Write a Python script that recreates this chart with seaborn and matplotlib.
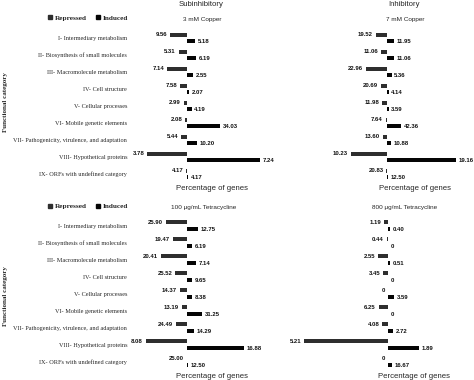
import numpy as np
import pandas as pd
import matplotlib
matplotlib.use('Agg')
from matplotlib import pyplot as plt
from matplotlib.lines import Line2D
import seaborn as sns

sns.set_style('white')
plt.rcParams['font.family'] = ['Liberation Sans', 'DejaVu Sans']

categories = ['I- Intermediary metabolism',
              'II- Biosynthesis of small molecules',
              'III- Macromolecule metabolism',
              'IV- Cell structure',
              'V- Cellular processes',
              'VI- Mobile genetic elements',
              'VII- Pathogenicity, virulence, and adaptation',
              'VIII- Hypothetical proteins',
              'IX- ORFs with undefined category']

# bar lengths and the printed percentages
cu3_rep = [17, 8.5, 20, 7, 3.5, 2, 6, 40, 0.7]
cu3_ind = [8, 9, 6, 2, 4.5, 33, 10, 73, 0.7]
cu3_rep_lbl = ['9.56', '5.31', '7.14', '7.58', '2.99', '2.08', '5.44', '3.78', '4.17']
cu3_ind_lbl = ['5.18', '6.19', '2.55', '2.07', '4.19', '34.03', '10.20', '7.24', '4.17']

cu7_rep = [11.5, 6, 21.5, 6.5, 5, 1.5, 4, 36, 0.7]
cu7_ind = [7, 7, 4.5, 1.5, 1.5, 14, 4, 69, 0.7]
cu7_rep_lbl = ['19.52', '11.06', '22.96', '20.69', '11.98', '7.64', '13.60', '10.23', '20.83']
cu7_ind_lbl = ['11.95', '11.06', '5.36', '4.14', '3.59', '42.36', '10.88', '19.16', '12.50']

tc100_rep = [21.5, 14.5, 26.5, 12, 7, 5.5, 11.5, 41.5, 0.5]
tc100_ind = [11, 5, 8.7, 5, 4.5, 15, 7, 57, 1]
tc100_rep_lbl = ['25.90', '19.47', '20.41', '25.52', '14.37', '13.19', '24.49', '8.08', '25.00']
tc100_ind_lbl = ['12.75', '6.19', '7.14', '9.65', '8.38', '31.25', '14.29', '16.88', '12.50']

tc800_rep = [4, 1.5, 10, 5, 0, 9.5, 6, 84, 0]
tc800_ind = [1.5, 0, 2, 0, 6, 0, 5, 31, 4]
tc800_rep_lbl = ['1.19', '0.44', '2.55', '3.45', '0', '6.25', '4.08', '5.21', '0']
tc800_ind_lbl = ['0.40', '0', '0.51', '0', '3.59', '0', '2.72', '1.89', '16.67']

directions = ['Repressed', 'Induced']
colors = ['#2e2e2e', '#050505']

W, H = 474, 380
fig = plt.figure(figsize=(W / 100, H / 100), dpi=100)


def px_rect(left, top, width, height):
    return [left / W, 1 - (top + height) / H, width / W, height / H]


def draw_panel(rect, center, rep, ind, rep_lbl, ind_lbl, show_cats):
    left, top, width, height = rect
    ax = fig.add_axes(px_rect(left, top, width, height))
    df = pd.DataFrame({
        'category': categories * 2,
        'direction': ['Repressed'] * 9 + ['Induced'] * 9,
        'value': [-v for v in rep] + list(ind),
    })
    sns.barplot(data=df, x='value', y='category', hue='direction',
                hue_order=directions, palette=colors, orient='h',
                dodge=True, width=0.78, gap=0.4, legend=False, ax=ax,
                saturation=1, linewidth=0)
    ax.set_xlim(left - center, left + width - center)
    ax.set_ylim(8.5, -0.5)
    for container, labels, off, ha in zip(ax.containers, [rep_lbl, ind_lbl],
                                          [-2, 2], ['right', 'left']):
        for bar, lbl in zip(container.patches, labels):
            x0, x1 = sorted([bar.get_x(), bar.get_x() + bar.get_width()])
            x = x0 if off < 0 else x1
            y = bar.get_y() + bar.get_height() / 2
            ax.annotate(lbl, (x, y), xytext=(off, 0), textcoords='offset points',
                        ha=ha, va='center', fontsize=4.3, fontweight='bold',
                        color='#111111')
    ax.set_xlabel('')
    ax.set_ylabel('')
    ax.set_xticks([])
    if show_cats:
        ax.set_yticks(range(len(categories)))
        ax.set_yticklabels(categories, fontfamily='Liberation Serif', fontsize=4.5)
        ax.tick_params(axis='y', length=0, pad=2)
    else:
        ax.set_yticks([])
    sns.despine(ax=ax, left=True, bottom=True)
    ax.patch.set_alpha(0)
    return ax


draw_panel((130, 29.5, 150, 153), 187, cu3_rep, cu3_ind, cu3_rep_lbl, cu3_ind_lbl, True)
draw_panel((293, 29.5, 181, 153), 387, cu7_rep, cu7_ind, cu7_rep_lbl, cu7_ind_lbl, False)
draw_panel((130, 217.3, 150, 153), 187, tc100_rep, tc100_ind, tc100_rep_lbl, tc100_ind_lbl, True)
draw_panel((293, 217.3, 181, 153), 388, tc800_rep, tc800_ind, tc800_rep_lbl, tc800_ind_lbl, False)


def ftext(x, y, s, **kw):
    fig.text(x / W, 1 - y / H, s, ha='center', va='center', **kw)


ftext(201, 5, 'Subinhibitory', fontsize=5.6)
ftext(404, 5, 'Inhibitory', fontsize=5.6)
ftext(202, 19, '3 mM Copper', fontsize=4.6)
ftext(405, 19, '7 mM Copper', fontsize=4.6)
ftext(204, 208, '100 \u03bcg/mL Tetracycline', fontsize=4.6)
ftext(405, 208, '800 \u03bcg/mL Tetracycline', fontsize=4.6)
for x, y in [(212, 189), (415, 189), (212, 377), (414, 377)]:
    ftext(x, y, 'Percentage of genes', fontsize=5.6)
for y in [102, 296]:
    ftext(6, y, 'Functional category', rotation=90, fontsize=5,
          fontweight='bold', fontfamily='Liberation Serif')

handles = [Line2D([], [], marker='s', linestyle='', color=c, markersize=3)
           for c in colors]
for y in [18, 206]:
    fig.legend(handles, directions, loc='center', bbox_to_anchor=(88 / W, 1 - y / H),
               ncol=2, frameon=False, handlelength=0.6, handletextpad=0.4,
               columnspacing=1.2, borderpad=0,
               prop={'family': 'Liberation Serif', 'weight': 'bold', 'size': 5.2})

plt.savefig('out.png', dpi=100)
